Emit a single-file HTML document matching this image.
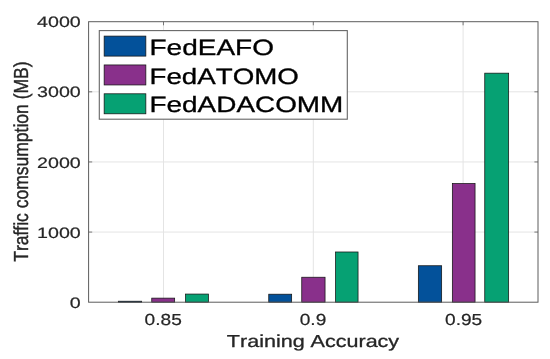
<!DOCTYPE html>
<html><head><meta charset="utf-8"><title>Traffic consumption chart</title>
<style>html,body{margin:0;padding:0;background:#fff;overflow:hidden}
svg{display:block;font-family:"Liberation Sans",Arial,Helvetica,sans-serif;font-kerning:none;text-rendering:geometricPrecision}
text{font-kerning:none}</style></head>
<body>
<svg width="550" height="359" viewBox="0 0 550 359">
<rect width="550" height="359" fill="#fff"/>
<g stroke="#e4e4e4" stroke-width="1">
<line x1="163.50" y1="21.7" x2="163.50" y2="302.2"/>
<line x1="313.30" y1="21.7" x2="313.30" y2="302.2"/>
<line x1="463.10" y1="21.7" x2="463.10" y2="302.2"/>
<line x1="88.6" y1="232.07" x2="538.0" y2="232.07"/>
<line x1="88.6" y1="161.95" x2="538.0" y2="161.95"/>
<line x1="88.6" y1="91.82" x2="538.0" y2="91.82"/>
</g>
<g stroke="#777" stroke-width="1">
<line x1="163.50" y1="302.2" x2="163.50" y2="298.60"/>
<line x1="163.50" y1="21.7" x2="163.50" y2="25.30"/>
<line x1="313.30" y1="302.2" x2="313.30" y2="298.60"/>
<line x1="313.30" y1="21.7" x2="313.30" y2="25.30"/>
<line x1="463.10" y1="302.2" x2="463.10" y2="298.60"/>
<line x1="463.10" y1="21.7" x2="463.10" y2="25.30"/>
<line x1="88.6" y1="232.07" x2="92.20" y2="232.07"/>
<line x1="538.0" y1="232.07" x2="534.40" y2="232.07"/>
<line x1="88.6" y1="161.95" x2="92.20" y2="161.95"/>
<line x1="538.0" y1="161.95" x2="534.40" y2="161.95"/>
<line x1="88.6" y1="91.82" x2="92.20" y2="91.82"/>
<line x1="538.0" y1="91.82" x2="534.40" y2="91.82"/>
</g>
<g stroke="#141414" stroke-width="0.75">
<rect x="118.35" y="301.22" width="23.30" height="0.98" fill="#03519a"/>
<rect x="151.75" y="298.13" width="22.90" height="4.07" fill="#89308b"/>
<rect x="185.55" y="294.07" width="22.90" height="8.13" fill="#06a173"/>
<rect x="268.75" y="294.21" width="22.90" height="7.99" fill="#03519a"/>
<rect x="301.75" y="277.24" width="23.30" height="24.96" fill="#89308b"/>
<rect x="335.55" y="251.99" width="22.50" height="50.21" fill="#06a173"/>
<rect x="418.35" y="265.74" width="23.30" height="36.46" fill="#03519a"/>
<rect x="452.35" y="183.55" width="22.70" height="118.65" fill="#89308b"/>
<rect x="484.75" y="73.17" width="23.90" height="229.03" fill="#06a173"/>
</g>
<rect x="88.6" y="21.7" width="449.40" height="280.50" fill="none" stroke="#5c5c5c" stroke-width="1"/>
<text transform="translate(80.80,307.85) scale(1.3100,1)" font-size="15.00" text-anchor="end" fill="#262626" stroke="#262626" stroke-width="0.2">0</text>
<text transform="translate(80.80,237.72) scale(1.3100,1)" font-size="15.00" text-anchor="end" fill="#262626" stroke="#262626" stroke-width="0.2">1000</text>
<text transform="translate(80.80,167.60) scale(1.3100,1)" font-size="15.00" text-anchor="end" fill="#262626" stroke="#262626" stroke-width="0.2">2000</text>
<text transform="translate(80.80,97.47) scale(1.3100,1)" font-size="15.00" text-anchor="end" fill="#262626" stroke="#262626" stroke-width="0.2">3000</text>
<text transform="translate(80.80,27.35) scale(1.3100,1)" font-size="15.00" text-anchor="end" fill="#262626" stroke="#262626" stroke-width="0.2">4000</text>
<text transform="translate(163.20,325.20) scale(1.1938,1)" font-size="16.00" text-anchor="middle" fill="#262626" stroke="#262626" stroke-width="0.2">0.85</text>
<text transform="translate(313.00,325.20) scale(1.1938,1)" font-size="16.00" text-anchor="middle" fill="#262626" stroke="#262626" stroke-width="0.2">0.9</text>
<text transform="translate(463.60,325.20) scale(1.1938,1)" font-size="16.00" text-anchor="middle" fill="#262626" stroke="#262626" stroke-width="0.2">0.95</text>
<text transform="translate(313.00,347.20) scale(1.2457,1)" font-size="17.30" text-anchor="middle" fill="#262626" stroke="#262626" stroke-width="0.3">Training Accuracy</text>
<text transform="translate(28.00,161.60) scale(1.1600,1) rotate(-90)" font-size="17.50" text-anchor="middle" fill="#262626" stroke="#262626" stroke-width="0.35">Traffic comsumption (MB)</text>
<rect x="99.3" y="30.6" width="248.0" height="88.6" fill="#fff" stroke="#666" stroke-width="1.1"/>
<g stroke="#141414" stroke-width="0.75">
<rect x="104.15" y="36.10" width="41.7" height="20.0" fill="#03519a"/>
<rect x="104.15" y="64.95" width="41.7" height="20.0" fill="#89308b"/>
<rect x="104.15" y="93.80" width="41.7" height="20.0" fill="#06a173"/>
</g>
<text transform="translate(149.50,55.10) scale(1.2613,1)" font-size="22.20" text-anchor="start" fill="#000" stroke="#000" stroke-width="0.3">FedEAFO</text>
<text transform="translate(149.50,83.75) scale(1.2495,1)" font-size="22.20" text-anchor="start" fill="#000" stroke="#000" stroke-width="0.3">FedATOMO</text>
<text transform="translate(149.50,112.10) scale(1.2581,1)" font-size="22.20" text-anchor="start" fill="#000" stroke="#000" stroke-width="0.3">FedADACOMM</text>
</svg>
</body></html>
